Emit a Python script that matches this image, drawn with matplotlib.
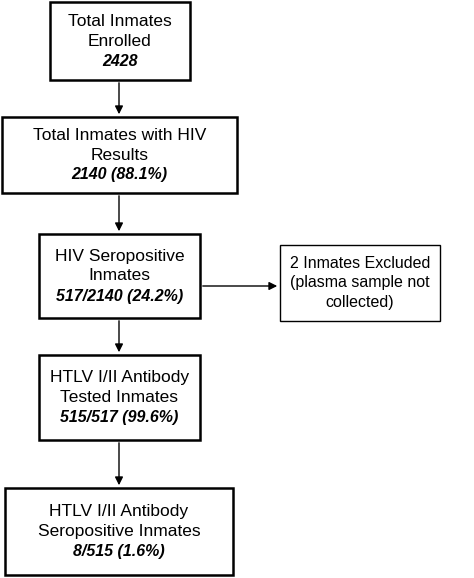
import matplotlib.pyplot as plt
from matplotlib.patches import Rectangle

plt.rcParams['font.family'] = ['Liberation Sans', 'DejaVu Sans']

labels = [
    ["Total Inmates", "Enrolled"],
    ["Total Inmates with HIV", "Results"],
    ["HIV Seropositive", "Inmates"],
    ["HTLV I/II Antibody", "Tested Inmates"],
    ["HTLV I/II Antibody", "Seropositive Inmates"],
]
counts = ["2428", "2140 (88.1%)", "517/2140 (24.2%)", "515/517 (99.6%)", "8/515 (1.6%)"]
side_label = ["2 Inmates Excluded", "(plasma sample not", "collected)"]

# box geometry in pixels (x0, y0, x1, y1)
boxes = [(50, 2, 190, 80), (2, 117, 237, 193), (39, 234, 200, 318),
         (39, 355, 200, 440), (5, 488, 233, 575)]
side_box = (280, 245, 440, 321)

fig = plt.figure(figsize=(4.74, 5.78), dpi=100)
ax = fig.add_axes([0, 0, 1, 1])
ax.set_xlim(0, 474)
ax.set_ylim(578, 0)
ax.axis('off')

for (x0, y0, x1, y1), lab, cnt in zip(boxes, labels, counts):
    ax.add_patch(Rectangle((x0, y0), x1 - x0, y1 - y0, fill=False, lw=1.8, ec='black'))
    cx, cy = (x0 + x1) / 2, (y0 + y1) / 2
    ax.text(cx, cy - 20, lab[0], ha='center', va='center', fontsize=12.5)
    ax.text(cx, cy, lab[1], ha='center', va='center', fontsize=12.5)
    ax.text(cx, cy + 20, cnt, ha='center', va='center', fontsize=11.5,
            fontweight='bold', fontstyle='italic')

x0, y0, x1, y1 = side_box
ax.add_patch(Rectangle((x0, y0), x1 - x0, y1 - y0, fill=False, lw=1.0, ec='black'))
for i, t in enumerate(side_label):
    ax.text((x0 + x1) / 2, (y0 + y1) / 2 + (i - 1) * 19, t, ha='center', va='center', fontsize=11.5)

for a, b in zip(boxes[:-1], boxes[1:]):
    ax.annotate('', xy=(119, b[1]), xytext=(119, a[3]),
                arrowprops=dict(arrowstyle='-|>', color='black', lw=1.0, mutation_scale=12))
ax.annotate('', xy=(side_box[0], 286), xytext=(boxes[2][2], 286),
            arrowprops=dict(arrowstyle='-|>', color='black', lw=1.0, mutation_scale=12))

fig.savefig('out.png', dpi=100)
